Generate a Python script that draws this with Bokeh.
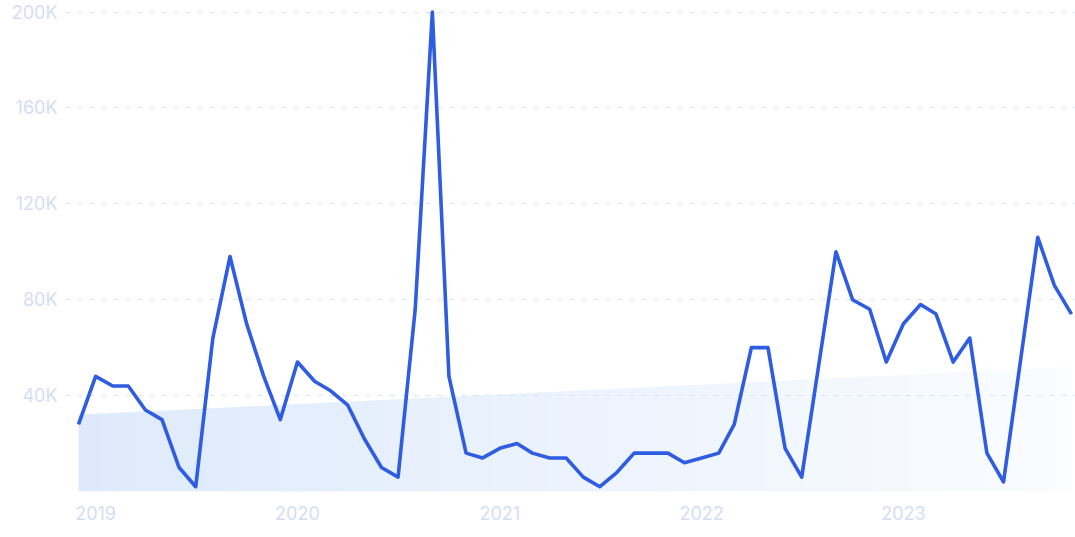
import numpy as np
import pandas as pd
from bokeh.plotting import figure
from bokeh.models import Range1d, FixedTicker, CustomJSTickFormatter, ColumnDataSource
from bokeh.embed import file_html
from bokeh.resources import INLINE

# ---- data ----
first_month = "2018-12-01"
values = [28000, 48000, 44000, 44000, 34000, 30000, 10000, 2000, 64000, 98000,
          70000, 48000, 30000, 54000, 46000, 42000, 36000, 22000, 10000, 6000,
          76000, 200000, 48000, 16000, 14000, 18000, 20000, 16000, 14000, 14000,
          6000, 2000, 8000, 16000, 16000, 16000, 12000, 14000, 16000, 28000,
          60000, 60000, 18000, 6000, 53000, 100000, 80000, 76000, 54000, 70000,
          78000, 74000, 54000, 64000, 16000, 4000, 55000, 106000, 86000, 74000]
trend_values = [32000, 52000]          # trend at first and last month
year_labels = [2019, 2020, 2021, 2022, 2023]
y_ticks = [40000, 80000, 120000, 160000, 200000]

months = pd.date_range(first_month, periods=len(values), freq="MS")
x_ms = (months.astype("int64") // 10**6).astype(float)
DAY = 86400000.0

t0, t1 = x_ms[0], x_ms[-1]
px_per_day = 993.0 / ((t1 - t0) / DAY)
frame_w = 1010.0
x_start = t0 - (13.0 / px_per_day) * DAY
x_end = x_start + (frame_w / px_per_day) * DAY

p = figure(width=1075, height=537, output_backend="svg", toolbar_location=None,
           x_range=Range1d(x_start, x_end), y_range=Range1d(0, 204800),
           min_border_left=65, min_border_right=0, min_border_top=0,
           min_border_bottom=46)
p.outline_line_color = None
p.background_fill_color = "white"
p.border_fill_color = "white"

# ---- trend area with horizontal gradient (strips) ----
n = 140
edges = np.linspace(t0, t1, n + 1)
tops = np.interp(edges, [t0, t1], trend_values)
c0 = np.array([222, 234, 251])
c1 = np.array([250, 252, 255])
xs, ys, cols = [], [], []
ov = (edges[1] - edges[0]) * 0.6
for k in range(n):
    a, b = edges[k], edges[k + 1]
    bb = min(b + ov, t1)
    tb = np.interp(bb, [t0, t1], trend_values)
    xs.append([a, bb, bb, a])
    ys.append([0, 0, tb, tops[k]])
    f = k / (n - 1)
    c = (c0 + (c1 - c0) * f).round().astype(int)
    cols.append("#%02x%02x%02x" % tuple(c))
p.patches(xs=xs, ys=ys, fill_color=cols, line_color=None, level="image")

# ---- main line ----
src = ColumnDataSource(dict(x=x_ms, y=values))
p.line("x", "y", source=src, line_color="#2e5ce2", line_width=3.6, line_join="round")

# ---- axes ----
year_ticks = [float(pd.Timestamp(f"{y}-01-01").value // 10**6) for y in year_labels]
p.xaxis.ticker = FixedTicker(ticks=year_ticks)
p.xaxis.formatter = CustomJSTickFormatter(code="return String(new Date(tick).getUTCFullYear());")
p.yaxis.ticker = FixedTicker(ticks=y_ticks)
p.yaxis.formatter = CustomJSTickFormatter(code="return (tick/1000).toFixed(0) + 'K';")

for ax in (p.xaxis, p.yaxis):
    ax.axis_line_color = None
    ax.major_tick_line_color = None
    ax.minor_tick_line_color = None
    ax.major_tick_out = 0
    ax.major_tick_in = 0
    ax.major_label_text_font = "Inter"
    ax.major_label_text_font_size = "18px"
    ax.major_label_text_color = "#d5ddf5"
p.yaxis.major_label_standoff = 8
p.xaxis.major_label_standoff = 14

p.xgrid.grid_line_color = None
p.ygrid.grid_line_color = "#d8e2f8"
p.ygrid.grid_line_width = 1
p.ygrid.grid_line_dash = "5 7"

open("out.html", "w").write(file_html(p, INLINE))
